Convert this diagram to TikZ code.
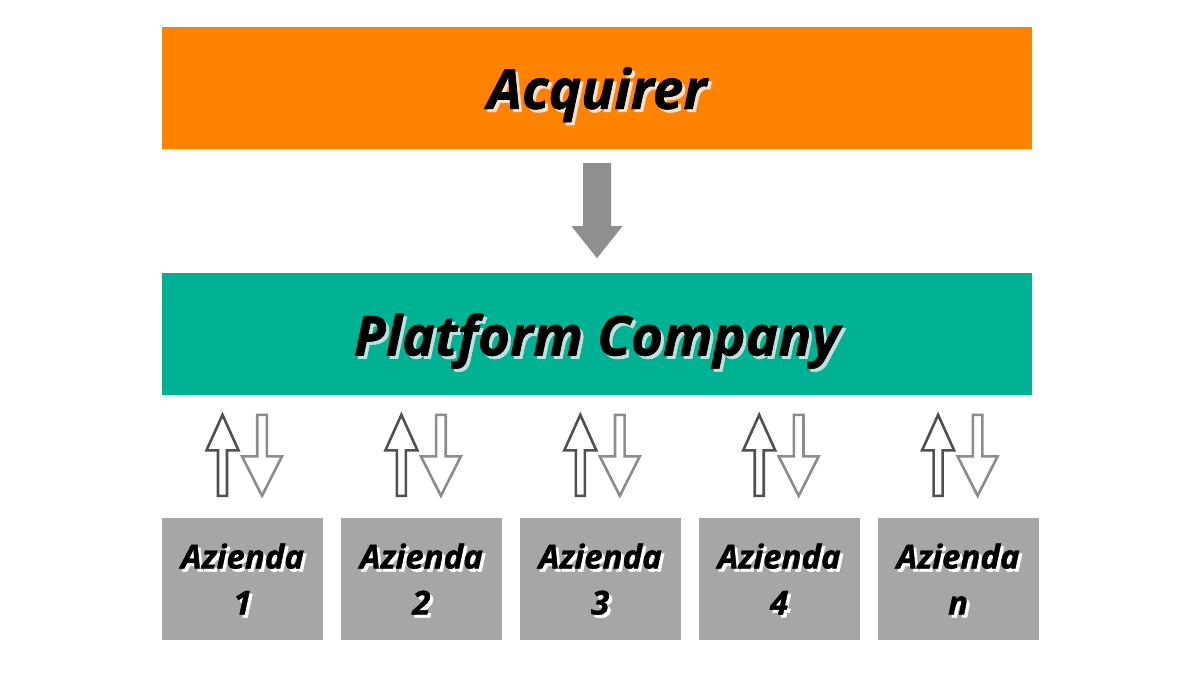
\documentclass[tikz,border=0pt]{standalone}
\usepackage{fontspec}
\setmainfont{Open Sans}[BoldItalicFeatures={FakeBold=1.2}]
\usepackage{tikz}
\usetikzlibrary{positioning, calc}

\definecolor{AcqOrange}{RGB}{255,130,0}
\definecolor{PlatTeal}{RGB}{0,178,148}
\definecolor{AzGray}{RGB}{166,166,166}
\definecolor{BigArrow}{RGB}{143,143,143}
\definecolor{UpGray}{RGB}{80,80,80}
\definecolor{DownGray}{RGB}{140,140,140}

% text with a light copy behind it
\newcommand\shtxt[2]{\leavevmode\rlap{\kern3pt\raisebox{-3pt}{\textcolor{#1}{#2}}}#2}

\begin{document}
\begin{tikzpicture}[
    x = 1pt, y = -1pt,
    node distance = 124pt and 17.5pt,
    bigbox/.style = {minimum width=870pt, minimum height=122pt, inner sep=0pt,
                     text depth=0pt,
                     font=\fontsize{55}{60}\selectfont\bfseries\itshape},
    azbox/.style  = {fill=AzGray, minimum width=161pt, minimum height=122pt,
                     inner sep=0pt, align=center, text depth=0pt,
                     font=\fontsize{33}{46}\selectfont\bfseries\itshape},
    uparr/.style  = {draw=UpGray, line width=2.6pt, fill=white, miter limit=4},
    dnarr/.style  = {draw=DownGray, line width=2.6pt, fill=white, miter limit=4},
  ]
  \useasboundingbox (0,0) rectangle (1200,675);

  \node[bigbox, fill=AcqOrange] (acq) at (597,88)
        {\shtxt{orange!25!white}{Acquirer}};
  \node[bigbox, fill=PlatTeal, below=of acq] (plat)
        {\shtxt{PlatTeal!30!white}{Platform Company}};

  % acquirer -> platform
  \coordinate (ta) at ($(acq.south)+(0,14)$);
  \coordinate (tb) at ($(plat.north)+(0,-15)$);
  \fill[BigArrow] ($(ta)+(-14,0)$) -- ($(ta)+(14,0)$) -- ($(tb)+(14,-32)$)
        -- ($(tb)+(25.5,-32)$) -- (tb) -- ($(tb)+(-25.5,-32)$)
        -- ($(tb)+(-14,-32)$) -- cycle;

  \node[azbox] (az1) at (242.5,579) {\shtxt{white}{Azienda}\\\shtxt{white}{1}};
  \node[azbox, right=of az1] (az2) {\shtxt{white}{Azienda}\\\shtxt{white}{2}};
  \node[azbox, right=of az2] (az3) {\shtxt{white}{Azienda}\\\shtxt{white}{3}};
  \node[azbox, right=of az3] (az4) {\shtxt{white}{Azienda}\\\shtxt{white}{4}};
  \node[azbox, right=of az4] (az5) {\shtxt{white}{Azienda}\\\shtxt{white}{n}};

  % up / down arrows over each company
  \foreach \a in {az1,az2,az3,az4,az5} {
    \coordinate (u) at ($(\a.north)+(-20,-103)$);
    \coordinate (d) at ($(\a.north)+(19.5,-103)$);
    \draw[uparr] (u) -- ++(16,35.5) -- ++(-11.5,0) -- ++(0,45.5) -- ++(-9,0)
          -- ++(0,-45.5) -- ++(-11.5,0) -- cycle;
    \draw[dnarr] ($(d)+(-4.8,0)$) -- ++(9.6,0) -- ++(0,41.5) -- ++(15.2,0)
          -- ++(-20,39.5) -- ++(-20,-39.5) -- ++(15.2,0) -- cycle;
  }
\end{tikzpicture}
\end{document}
